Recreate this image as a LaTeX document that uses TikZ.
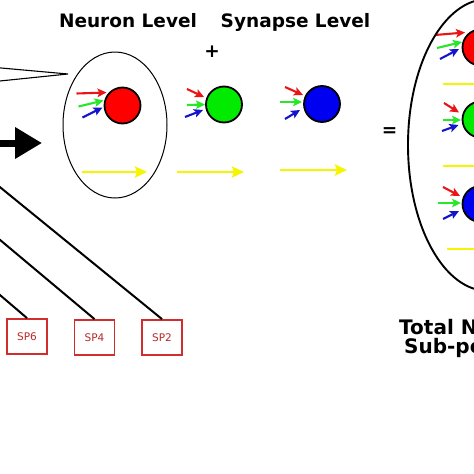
\documentclass[tikz,border=0pt]{standalone}
\usepackage{fontspec}
\setmainfont{DejaVu Sans}
\usetikzlibrary{arrows.meta,calc,shapes.geometric}
\definecolor{cred}{RGB}{255,0,0}
\definecolor{cgreen}{RGB}{0,235,0}
\definecolor{cblue}{RGB}{0,0,240}
\definecolor{ared}{RGB}{235,20,20}
\definecolor{agreen}{RGB}{40,230,40}
\definecolor{ablue}{RGB}{20,20,205}
\definecolor{cyellow}{RGB}{245,245,0}
\definecolor{boxred}{RGB}{210,45,45}
\definecolor{boxtext}{RGB}{185,40,40}
\begin{document}
\begin{tikzpicture}[x=1pt,y=-1pt,
  neuron/.style={circle,draw=black,line width=1.8pt,minimum size=36pt,inner sep=0pt},
  inarrow/.style={line width=2.1pt,-{Stealth[length=9pt,width=8.5pt,inset=2pt]}},
  flow/.style={cyellow,line width=2.4pt,-{Stealth[length=12pt,width=11pt,inset=2pt]}},
  titletext/.style={font=\fontsize{18.5}{22}\selectfont\bfseries,inner sep=0pt},
  bigtext/.style={font=\fontsize{20}{24}\selectfont\bfseries,inner sep=0pt},
  spbox/.style={draw=boxred,line width=1.8pt,minimum width=40pt,minimum height=35pt,inner sep=0pt,text=boxtext,font=\fontsize{10.5}{12}\selectfont},
  link/.style={black,line width=2pt},
  thin/.style={black,line width=1.1pt}]
\useasboundingbox (0,0) rectangle (474,474);
\fill[white] (0,0) rectangle (474,474);
\clip (0,0) rectangle (474,474);

% titles
\node[titletext,anchor=base] (tneuron) at (128,27) {Neuron Level};
\node[titletext,anchor=base] (tsyn) at (295.5,27) {Synapse Level};
\node[titletext] (plus) at (212,52) {+};
\node[titletext] (eq) at (389.5,132.5) {=};

% neuron-level ellipse
\node[draw=black,line width=1pt,ellipse,minimum width=104pt,minimum height=146pt,inner sep=0pt] (nell) at (115,125) {};
\coordinate (conv) at (68,74);
\coordinate (convA) at (-10,67);
\coordinate (convB) at (-10,82);
\draw[thin] (convA) -- (conv) -- (convB);

% big black arrow
\coordinate (bigA) at (-10,143);
\coordinate (bigB) at (42,143);
\draw[line width=7pt,-{Triangle[length=27pt,width=30pt]}] (bigA) -- (bigB);

% circles
\node[neuron,fill=cred] (n1) at (122.5,105.5) {};
\node[neuron,fill=cgreen] (n2) at (224,104.5) {};
\node[neuron,fill=cblue] (n3) at (322,104) {};
\node[neuron,fill=cred] (m1) at (480.5,47.5) {};
\node[neuron,fill=cgreen] (m2) at (480.5,119.5) {};
\node[neuron,fill=cblue] (m3) at (480.5,204) {};

% input arrows
\draw[inarrow,ared] ($(n1)+(-46,-12)$) -- ($(n1)+(-16,-13)$);
\draw[inarrow,agreen] ($(n1)+(-44,1)$) -- ($(n1)+(-19,-5)$);
\draw[inarrow,ablue] ($(n1)+(-40,12)$) -- ($(n1)+(-20,2)$);

\draw[inarrow,ared] ($(n2)+(-37,-15.5)$) -- ($(n2)+(-20,-7.5)$);
\draw[inarrow,agreen] ($(n2)+(-37,0.5)$) -- ($(n2)+(-19,0)$);
\draw[inarrow,ablue] ($(n2)+(-39,12.5)$) -- ($(n2)+(-21,5.5)$);

\draw[inarrow,ared] ($(n3)+(-37,-17)$) -- ($(n3)+(-19,-9)$);
\draw[inarrow,agreen] ($(n3)+(-42,-2)$) -- ($(n3)+(-20,-2)$);
\draw[inarrow,ablue] ($(n3)+(-37,15)$) -- ($(n3)+(-22,6)$);

\draw[inarrow,ared] ($(m1)+(-45.5,-12.5)$) -- ($(m1)+(-15.5,-15)$);
\draw[inarrow,agreen] ($(m1)+(-43.5,0.5)$) -- ($(m1)+(-18.5,-5.5)$);
\draw[inarrow,ablue] ($(m1)+(-40.5,11.5)$) -- ($(m1)+(-21.5,1.5)$);

\draw[inarrow,ared] ($(m2)+(-36.5,-16.5)$) -- ($(m2)+(-21.5,-7)$);
\draw[inarrow,agreen] ($(m2)+(-37.5,0.5)$) -- ($(m2)+(-19.5,0.5)$);
\draw[inarrow,ablue] ($(m2)+(-38.5,11.5)$) -- ($(m2)+(-22,5.5)$);

\draw[inarrow,ared] ($(m3)+(-37.5,-17)$) -- ($(m3)+(-20.5,-8)$);
\draw[inarrow,agreen] ($(m3)+(-42.5,-1)$) -- ($(m3)+(-19.5,-1)$);
\draw[inarrow,ablue] ($(m3)+(-37.5,15)$) -- ($(m3)+(-21.5,7)$);

% yellow flows
\coordinate (y1a) at (82,172);  \coordinate (y1b) at (147,172);
\coordinate (y2a) at (177,172); \coordinate (y2b) at (244,172);
\coordinate (y3a) at (280,170); \coordinate (y3b) at (347,170);
\draw[flow] (y1a) -- (y1b);
\draw[flow] (y2a) -- (y2b);
\draw[flow] (y3a) -- (y3b);
\coordinate (y4a) at (443,84);  \coordinate (y4b) at (515,84);
\coordinate (y5a) at (443,166); \coordinate (y5b) at (515,166);
\coordinate (y6a) at (447,249); \coordinate (y6b) at (515,249);
\draw[flow] (y4a) -- (y4b);
\draw[flow] (y5a) -- (y5b);
\draw[flow] (y6a) -- (y6b);

% big population ellipse
\draw[black,line width=1.9pt] (488,145) ellipse [x radius=80, y radius=146];

% sub-population boxes
\node[spbox] (sp6) at (27,336.5) {SP6};
\node[spbox] (sp4) at (94.5,337.5) {SP4};
\node[spbox] (sp2) at (162,337.5) {SP2};
\coordinate (l6) at (-10,286.5);
\coordinate (l4) at (-10,231.5);
\coordinate (l2) at (-10,179);
\draw[link] (l6) -- (sp6.north);
\draw[link] (l4) -- (sp4.north);
\draw[link] (l2) -- (sp2.north);

% bottom label
\node[bigtext,anchor=base west] (tot1) at (399,334) {Total Neuron};
\node[bigtext,anchor=base west] (tot2) at (404,353) {Sub-population};
\end{tikzpicture}
\end{document}
